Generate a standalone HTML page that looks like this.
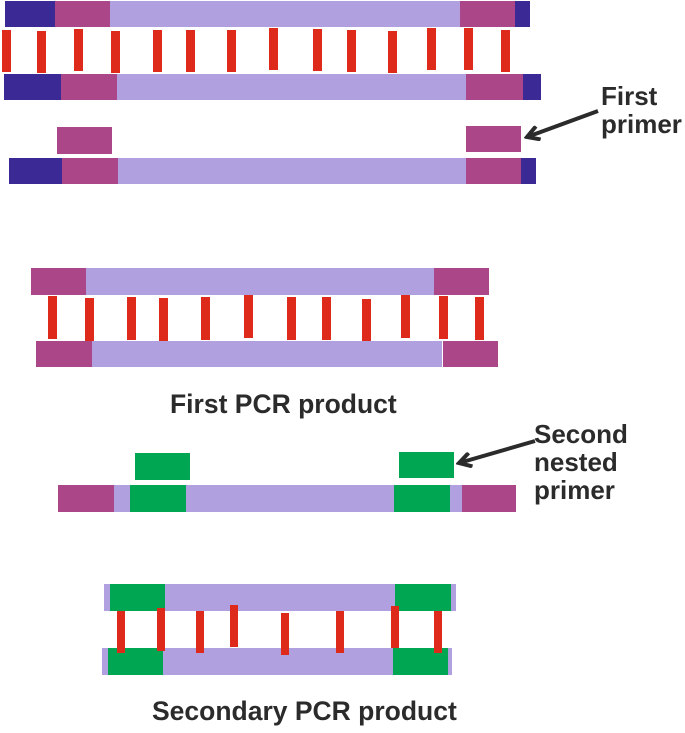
<!DOCTYPE html>
<html><head><style>
html,body{margin:0;padding:0;background:#fff;width:685px;height:733px;overflow:hidden}
svg{display:block}
text{font-family:"Liberation Sans",sans-serif;font-weight:bold;fill:#2b2b2b}
</style></head><body>
<svg width="685" height="733" viewBox="0 0 685 733" xmlns="http://www.w3.org/2000/svg">
<defs>
<marker id="ah" markerWidth="16" markerHeight="16" refX="13" refY="8" orient="auto" markerUnits="userSpaceOnUse">
<path d="M1,1 L13,8 L1,15" fill="none" stroke="#2b2b2b" stroke-width="4"/>
</marker>
</defs>
<!-- strand 1 -->
<rect x="5" y="1" width="50" height="26" fill="#3b2a96"/>
<rect x="55" y="1" width="55" height="26" fill="#ab4689"/>
<rect x="110" y="1" width="350" height="26" fill="#b0a0e0"/>
<rect x="460" y="1" width="55" height="26" fill="#ab4689"/>
<rect x="515" y="1" width="15" height="26" fill="#3b2a96"/>
<g fill="#dd2a1a">
<rect x="2" y="30" width="9" height="42"/><rect x="37" y="31" width="9" height="42"/>
<rect x="74" y="29" width="9" height="42"/><rect x="111" y="31" width="9" height="42"/>
<rect x="153" y="30" width="9" height="42"/><rect x="186" y="30" width="9" height="42"/>
<rect x="227" y="30" width="9" height="42"/><rect x="269" y="28" width="9" height="42"/>
<rect x="313" y="29" width="9" height="42"/><rect x="347" y="30" width="9" height="42"/>
<rect x="388" y="31" width="9" height="42"/><rect x="427" y="28" width="9" height="42"/>
<rect x="464" y="28" width="9" height="42"/><rect x="501" y="30" width="9" height="42"/>
</g>
<!-- strand 2 -->
<rect x="4" y="74" width="57" height="26" fill="#3b2a96"/>
<rect x="61" y="74" width="56" height="26" fill="#ab4689"/>
<rect x="117" y="74" width="349" height="26" fill="#b0a0e0"/>
<rect x="466" y="74" width="57" height="26" fill="#ab4689"/>
<rect x="523" y="74" width="18" height="26" fill="#3b2a96"/>
<!-- primers -->
<rect x="57" y="127" width="55" height="27" fill="#ab4689"/>
<rect x="466" y="126" width="55" height="26" fill="#ab4689"/>
<!-- strand 3 -->
<rect x="9" y="158" width="53" height="26" fill="#3b2a96"/>
<rect x="62" y="158" width="56" height="26" fill="#ab4689"/>
<rect x="118" y="158" width="348" height="26" fill="#b0a0e0"/>
<rect x="466" y="158" width="55" height="26" fill="#ab4689"/>
<rect x="521" y="158" width="15" height="26" fill="#3b2a96"/>
<text x="601" y="105" font-size="26">First</text>
<text x="601" y="133" font-size="26">primer</text>
<line x1="598" y1="111" x2="527" y2="137" stroke="#2b2b2b" stroke-width="4" marker-end="url(#ah)"/>

<!-- First PCR product -->
<rect x="31" y="268" width="55" height="27" fill="#ab4689"/>
<rect x="86" y="268" width="348" height="27" fill="#b0a0e0"/>
<rect x="434" y="268" width="55" height="27" fill="#ab4689"/>
<g fill="#dd2a1a">
<rect x="48" y="296" width="9" height="43"/><rect x="85" y="298" width="9" height="43"/>
<rect x="127" y="297" width="9" height="43"/><rect x="159" y="298" width="9" height="43"/>
<rect x="201" y="297" width="9" height="43"/><rect x="244" y="295" width="9" height="43"/>
<rect x="287" y="297" width="9" height="43"/><rect x="322" y="297" width="9" height="43"/>
<rect x="362" y="299" width="9" height="43"/><rect x="401" y="295" width="9" height="43"/>
<rect x="439" y="296" width="9" height="43"/><rect x="475" y="297" width="9" height="43"/>
</g>
<rect x="36" y="341" width="56" height="26" fill="#ab4689"/>
<rect x="92" y="341" width="350" height="26" fill="#b0a0e0"/>
<rect x="443" y="341" width="55" height="26" fill="#ab4689"/>
<text x="170" y="413" font-size="26.5">First PCR product</text>

<!-- nested -->
<rect x="135" y="453" width="55" height="27" fill="#00a651"/>
<rect x="399" y="452" width="55" height="26" fill="#00a651"/>
<rect x="58" y="485" width="56" height="27" fill="#ab4689"/>
<rect x="114" y="485" width="348" height="27" fill="#b0a0e0"/>
<rect x="130" y="485" width="56" height="27" fill="#00a651"/>
<rect x="394" y="485" width="56" height="27" fill="#00a651"/>
<rect x="462" y="485" width="54" height="27" fill="#ab4689"/>
<text x="534" y="443" font-size="26">Second</text>
<text x="534" y="471" font-size="26">nested</text>
<text x="534" y="499" font-size="26">primer</text>
<line x1="535" y1="441" x2="459" y2="463" stroke="#2b2b2b" stroke-width="4" marker-end="url(#ah)"/>

<!-- Secondary -->
<rect x="104" y="584" width="352" height="27" fill="#b0a0e0"/>
<rect x="110" y="584" width="55" height="27" fill="#00a651"/>
<rect x="395" y="584" width="56" height="27" fill="#00a651"/>
<rect x="102" y="648" width="350" height="27" fill="#b0a0e0"/>
<rect x="108" y="648" width="55" height="27" fill="#00a651"/>
<rect x="393" y="648" width="55" height="27" fill="#00a651"/>
<g fill="#dd2a1a">
<rect x="117" y="611" width="8" height="42"/><rect x="157" y="608" width="8" height="43"/>
<rect x="196" y="611" width="8" height="42"/><rect x="230" y="605" width="8" height="42"/>
<rect x="281" y="613" width="8" height="42"/><rect x="336" y="611" width="8" height="42"/>
<rect x="391" y="606" width="8" height="42"/><rect x="434" y="611" width="8" height="42"/>
</g>
<text x="152" y="720" font-size="26.5">Secondary PCR product</text>
</svg>
</body></html>
